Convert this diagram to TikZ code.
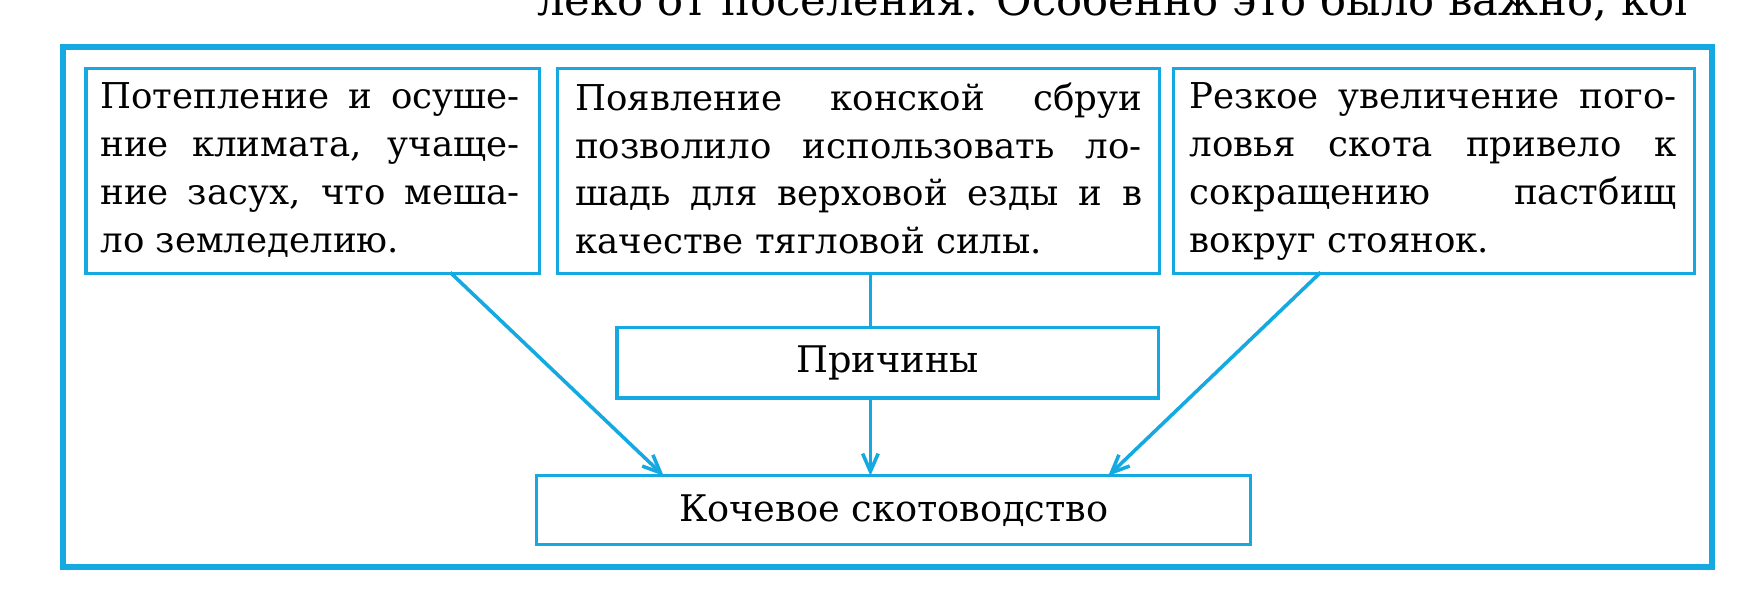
\documentclass[tikz,border=0pt]{standalone}
\usepackage{fontspec}
\setmainfont{DejaVu Serif}
\definecolor{cy}{RGB}{20,170,225}
\begin{document}
\begin{tikzpicture}[x=0.5pt,y=-0.5pt,
  bx/.style={draw=cy,line width=1.4pt,anchor=north west,inner sep=0pt},
  txt/.style={font=\fontsize{16}{21.5}\selectfont,align=justify},
  con/.style={draw=cy,line width=1.6pt},
  arr/.style={con,-{Straight Barb[length=8pt,width=7pt]}}]
\usetikzlibrary{arrows.meta}
\useasboundingbox (0,0) rectangle (1568,537);
\draw[cy,line width=2.6pt] (57,42) rectangle (1540,510);
\node[anchor=base west,font=\fontsize{19.5}{22}\selectfont,inner sep=0pt] (top) at (483,14) {леко от поселения. Особенно это было важно, ког};
\node[bx,minimum width=204pt,minimum height=92.5pt] (b1) at (76,60) {};
\node[bx,minimum width=271pt,minimum height=92.5pt] (b2) at (500,60) {};
\node[bx,minimum width=234.5pt,minimum height=92.5pt] (b3) at (1054,60) {};
\node[txt,text width=188.5pt,anchor=north west,inner sep=0pt] (t1) at (90,74) {Потепление и осуше-\linebreak ние климата, учаще-\linebreak ние засух, что меша-\linebreak ло земледелию.};
\node[txt,text width=255pt,anchor=north west,inner sep=0pt] (t2) at (517,74) {Появление конской сбруи\linebreak позволило использовать ло-\linebreak шадь для верховой езды и в\linebreak качестве тягловой силы.};
\node[txt,text width=219pt,anchor=north west,inner sep=0pt] (t3) at (1070,74) {Резкое увеличение пого-\linebreak ловья скота привело к\linebreak сокращению пастбищ\linebreak вокруг стоянок.};
\node[bx,minimum width=243.5pt,minimum height=31.5pt,font=\fontsize{16.5}{18}\selectfont,anchor=center] (p) at (798.5,326.5) {Причины};
\node[bx,minimum width=321pt,minimum height=31pt,font=\fontsize{16.5}{18}\selectfont,anchor=center] (k) at (804,459) {Кочевое скотоводство};
\draw[con] (783,245) -- (783,295);
\draw[arr] (783,358) -- (783,428);
\draw[arr] (405,245) -- (597,428);
\draw[arr] (1188,245) -- (997,428);
\end{tikzpicture}
\end{document}
